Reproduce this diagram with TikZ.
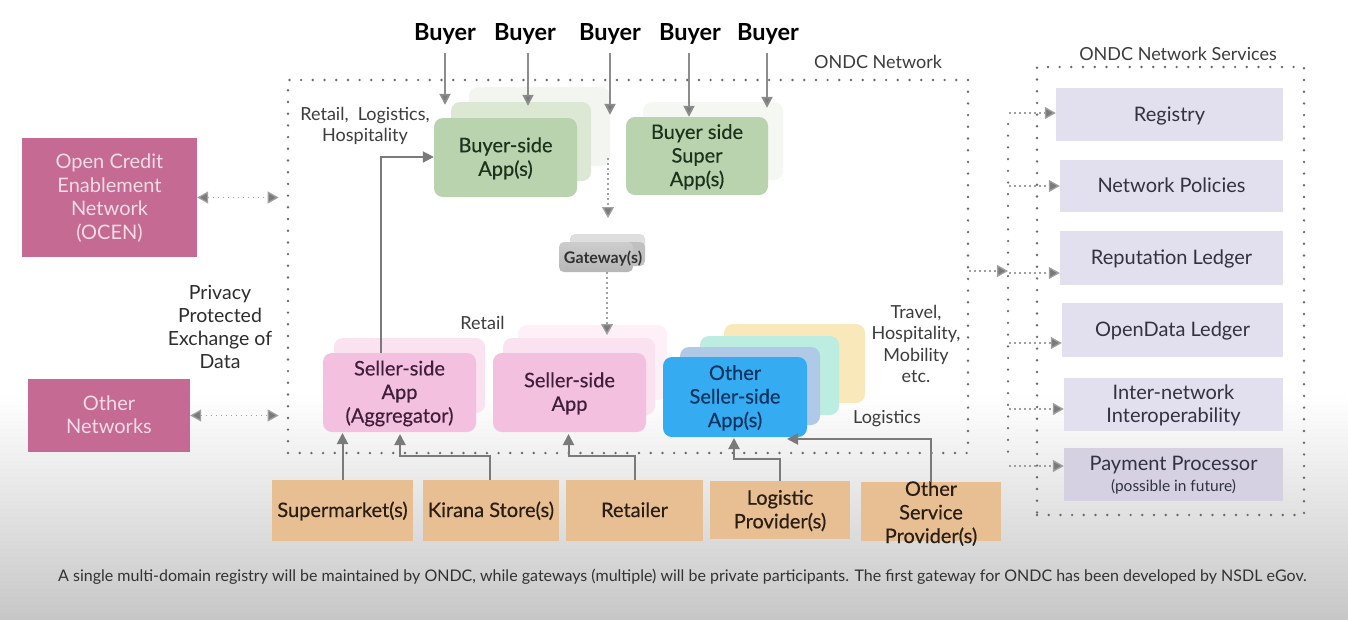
\documentclass[tikz,border=0pt]{standalone}
\usepackage{fontspec}
\setmainfont{Lato}[FakeBold=0.35]
\newfontfamily\plainlato{Lato}
\usetikzlibrary{arrows.meta,calc,positioning}
\definecolor{tipgrey}{HTML}{7A7A7A}
\definecolor{linegrey}{HTML}{8C8C8C}
\definecolor{dotgrey}{HTML}{6A6A6A}
\definecolor{thindot}{HTML}{A0A0A0}
\definecolor{labelc}{HTML}{3C3C3C}
\newcommand{\pxfont}[1]{\pgfmathsetmacro{\lsk}{#1*1.18}\fontsize{#1}{\lsk}\selectfont}
\tikzset{
  px/.style={font={\pxfont{#1}}},
  lightpx/.style={font={\plainlato\pxfont{#1}}},
  netframe/.style={draw=dotgrey,line width=2.7pt,line cap=round,dash pattern=on 0pt off 11.7pt,inner sep=0pt},
  solidarrow/.style={draw=linegrey,line width=1.9pt,-{Triangle[width=11pt,length=11pt,fill=tipgrey]}},
  elbowarrow/.style={draw=tipgrey,line width=2pt,-{Triangle[width=11pt,length=11pt,fill=tipgrey]}},
  dotarrow/.style={draw=thindot,line width=1.3pt,dash pattern=on 1.5pt off 3.5pt,-{Triangle[width=12pt,length=11pt,fill=tipgrey]}},
  dotboth/.style={draw=thindot,line width=1.3pt,dash pattern=on 1.5pt off 3.5pt,{Triangle[width=12pt,length=11pt,fill=tipgrey]}-{Triangle[width=12pt,length=11pt,fill=tipgrey]}},
  dotline/.style={draw=dotgrey,line width=2.5pt,line cap=round,dash pattern=on 0pt off 11.7pt},
  appbox/.style={rounded corners=9pt,align=center,inner sep=0pt},
  flatbox/.style={align=center,inner sep=0pt},
  free/.style={align=center,inner sep=0pt,text=labelc,lightpx=18},
  buyerlabel/.style={inner sep=0pt,text=black,font={\plainlato\fontsize{23.5}{26}\selectfont\bfseries}},
}
% box by its corners: style, name, x1, y1, x2, y2, text (set slightly below the centre)
\newcommand{\cornerbox}[7]{%
  \pgfmathsetmacro{\bw}{#5-#3}\pgfmathsetmacro{\bh}{#6-#4}%
  \pgfmathsetmacro{\bx}{(#3+#5)/2}\pgfmathsetmacro{\by}{(#4+#6)/2}%
  \node[#1,minimum width=\bw pt,minimum height=\bh pt] (#2) at (\bx,\by) {\raisebox{-1.8pt}[\height][\depth]{\begin{tabular}{@{}c@{}}#7\end{tabular}}};}
\begin{document}
\begin{tikzpicture}[x=1pt,y=-1pt]
\useasboundingbox (0,0) rectangle (1348,619);
\fill[white] (0,0) rectangle (1348,396);
\fill[top color=white,bottom color=black!22] (0,395) rectangle (1348,619);

% frames
\cornerbox{netframe}{net}{288}{80}{968}{453}{}
\cornerbox{netframe}{svc}{1037}{67}{1304}{515}{}
\node[free] (netlabel) at (878,62) {ONDC Network};
\node[free] (svclabel) at (1178,54) {ONDC Network Services};

% buyers
\node[buyerlabel] (b1) at (445,34) {Buyer};
\node[buyerlabel] (b2) at (525,34) {Buyer};
\node[buyerlabel] (b3) at (610,34) {Buyer};
\node[buyerlabel] (b4) at (690,34) {Buyer};
\node[buyerlabel] (b5) at (768,34) {Buyer};

% buyer apps
\cornerbox{appbox,fill={rgb,255:red,243;green,246;blue,240}}{bsbb}{469}{87}{610}{166}{}
\cornerbox{appbox,fill={rgb,255:red,220;green,232;blue,212}}{bsb}{451}{102}{591}{181}{}
\cornerbox{appbox,fill={rgb,255:red,185;green,211;blue,174},text={rgb,255:red,28;green,50;blue,28},px=20}{bsa}{434}{118}{577}{197}{Buyer-side\\App(s)}
\cornerbox{appbox,fill={rgb,255:red,244;green,247;blue,242}}{supb}{643}{102}{783}{180}{}
\cornerbox{appbox,fill={rgb,255:red,185;green,211;blue,174},text={rgb,255:red,28;green,50;blue,28},px=20}{sup}{626}{117}{768}{195}{Buyer side\\Super\\App(s)}
\node[free] (rl) at (365,126) {Retail,\ \ Logistics,\\Hospitality};

% gateway
\cornerbox{appbox,rounded corners=5pt,fill={rgb,255:red,222;green,222;blue,222}}{gwb}{570}{234}{645}{256}{}
\cornerbox{appbox,rounded corners=5pt,fill={rgb,255:red,192;green,192;blue,192}}{gwm}{566}{242}{645}{266}{}
\cornerbox{appbox,rounded corners=5pt,top color={rgb,255:red,205;green,205;blue,205},bottom color={rgb,255:red,182;green,182;blue,182}}{gw}{559}{242}{633}{272}{}
\node[inner sep=0pt,text={rgb,255:red,50;green,50;blue,50},lightpx=16] (gwt) at (603,259) {\textbf{Gateway(s)}};

% seller apps
\cornerbox{appbox,fill={rgb,255:red,250;green,226;blue,240}}{aggb}{334}{338}{485}{413}{}
\cornerbox{appbox,fill={rgb,255:red,243;green,192;blue,223},text={rgb,255:red,62;green,30;blue,58},px=20}{agg}{323}{353}{476}{432}{Seller-side\\App\\(Aggregator)}
\cornerbox{appbox,fill={rgb,255:red,253;green,241;blue,247}}{selbb}{518}{325}{667}{400}{}
\cornerbox{appbox,fill={rgb,255:red,250;green,226;blue,240}}{selb}{503}{338}{655}{415}{}
\cornerbox{appbox,fill={rgb,255:red,243;green,192;blue,223},text={rgb,255:red,62;green,30;blue,58},px=20}{sel}{493}{353}{646}{432}{Seller-side\\App}
\cornerbox{appbox,fill={rgb,255:red,248;green,232;blue,186}}{oty}{724}{324}{865}{403}{}
\cornerbox{appbox,fill={rgb,255:red,189;green,236;blue,224}}{otm}{700}{336}{839}{415}{}
\cornerbox{appbox,fill={rgb,255:red,175;green,201;blue,230}}{otb}{680}{347}{820}{425}{}
\cornerbox{appbox,fill={rgb,255:red,53;green,172;blue,241},text={rgb,255:red,10;green,50;blue,95},px=20}{oth}{663}{357}{807}{437}{Other\\Seller-side\\App(s)}
\node[free] (retail) at (482.5,323) {Retail};
\node[free] (travel) at (916,344) {Travel,\\Hospitality,\\Mobility\\etc.};
\node[free] (logi) at (887,419) {Logistics};

% providers
\tikzset{provider/.style={flatbox,fill={rgb,255:red,232;green,190;blue,147},text={rgb,255:red,40;green,30;blue,20},px=20}}
\cornerbox{provider}{smk}{272}{480}{413}{541}{Supermarket(s)}
\cornerbox{provider}{kir}{423}{480}{559}{541}{Kirana Store(s)}
\cornerbox{provider}{ret}{566}{480}{703}{541}{Retailer}
\cornerbox{provider}{lgp}{710}{481}{850}{539}{Logistic\\Provider(s)}
\cornerbox{provider}{osp}{861}{482}{1001}{541}{}
\node[flatbox,text={rgb,255:red,40;green,30;blue,20},px=20] (ospt) at (931,513.5) {Other\\Service\\Provider(s)};

% services
\tikzset{svcbox/.style={flatbox,fill={rgb,255:red,226;green,223;blue,238},text={rgb,255:red,50;green,50;blue,65},lightpx=20}}
\cornerbox{svcbox}{reg}{1056}{88}{1283}{141}{Registry}
\cornerbox{svcbox}{pol}{1060}{160}{1283}{212}{Network Policies}
\cornerbox{svcbox}{rep}{1060}{231}{1283}{285}{Reputation Ledger}
\cornerbox{svcbox}{opn}{1062}{303}{1283}{357}{OpenData Ledger}
\cornerbox{svcbox}{int}{1064}{378}{1283}{431}{Inter-network\\Interoperability}
\cornerbox{svcbox,fill={rgb,255:red,213;green,209;blue,226}}{pay}{1064}{448}{1283}{501}{Payment Processor\\[-3pt]{\fontsize{15.5}{17}\selectfont (possible in future)}}

% left networks
\tikzset{extbox/.style={flatbox,fill={rgb,255:red,196;green,106;blue,147},text={rgb,255:red,244;green,220;blue,230},lightpx=20}}
\cornerbox{extbox}{ocen}{22}{138}{197}{257}{Open Credit\\Enablement\\Network\\(OCEN)}
\cornerbox{extbox}{othn}{28}{379}{190}{452}{Other\\Networks}
\node[free,lightpx=19.5,text={rgb,255:red,45;green,45;blue,45}] (priv) at (220,327) {Privacy\\Protected\\Exchange of\\Data};

% connectors
\draw[dotboth,shorten >=8pt] (ocen.east) -- (ocen.east -| net.west);
\draw[dotboth,shorten >=8pt] (othn.east) -- (othn.east -| net.west);

\draw[solidarrow,shorten >=13pt] (b1.south) ++(0,8) -- (b1.south |- bsa.north);
\draw[solidarrow,shorten >=12pt] (b2.south) ++(3,8) -- ($(b2.south |- bsa.north)+(3,0)$);
\draw[solidarrow,shorten >=3pt] (b3.south) ++(0,8) -- (b3.south |- bsa.north);
\draw[solidarrow,shorten >=0pt] (b4.south) ++(-1,8) -- ($(b4.south |- sup.north)+(-1,0)$);
\draw[solidarrow,shorten >=9pt] (b5.south) ++(-1,8) -- ($(b5.south |- sup.north)+(-1,0)$);
\coordinate (gwin) at (608,218);
\coordinate (gwtop) at (608,158);
\coordinate (gwout) at (607,272);
\coordinate (selin) at (607,335);
\coordinate (aggout) at (381,353);
\coordinate (aggelbow) at (381,157);
\draw[dotarrow] (gwtop) -- (gwin);
\draw[dotarrow] (gwout) -- (selin);

\draw[elbowarrow] (aggout) -- (aggelbow) -- (aggelbow -| bsa.west);
\coordinate (smkout) at (342.5,480); \coordinate (smkin) at (342.5,433);
\draw[elbowarrow] (smkout) -- (smkin);
\coordinate (kirout) at (490,480); \coordinate (kirbend) at (490,456); \coordinate (kirin) at (400,434);
\draw[elbowarrow] (kirout) -- (kirbend) -- (kirbend -| kirin) -- (kirin);
\coordinate (retout) at (635,480); \coordinate (retbend) at (635,456); \coordinate (retin) at (568.5,434);
\draw[elbowarrow] (retout) -- (retbend) -- (retbend -| retin) -- (retin);
\coordinate (lgpbend) at (780,459); \coordinate (lgpin) at (734,438);
\draw[elbowarrow] (lgp.north) -- (lgpbend) -- (lgpbend -| lgpin) -- (lgpin);
\coordinate (ospbend) at (931,439); \coordinate (ospin) at (787,439);
\draw[elbowarrow] (osp.north) -- (ospbend) -- (ospin);

% network to services
\coordinate (bustop) at (1008,124);
\coordinate (busbot) at (1008,453);
\coordinate (busjoin) at (1008,271);
\draw[dotline] (bustop) -- (busbot);
\draw[dotarrow] (busjoin -| net.east) -- (busjoin);
\coordinate (jreg) at (1009,113);
\coordinate (jpol) at (1009,186);
\coordinate (jrep) at (1009,273);
\coordinate (jopn) at (1009,343);
\coordinate (jint) at (1009,409);
\coordinate (jpay) at (1009,466);
\draw[dotarrow] (jreg) -- (jreg -| reg.west);
\draw[dotarrow] (jpol) -- (jpol -| pol.west);
\draw[dotarrow] (jrep) -- (jrep -| rep.west);
\draw[dotarrow] (jopn) -- (jopn -| opn.west);
\draw[dotarrow] (jint) -- (jint -| int.west);
\draw[dotarrow] (jpay) -- (jpay -| pay.west);

% footnote
\node[inner sep=0pt,anchor=west,text={rgb,255:red,50;green,50;blue,50},lightpx=16] (foot) at (58,577) {A single multi-domain registry will be maintained by ONDC, while gateways (multiple) will be private participants. The first gateway for ONDC has been developed by NSDL eGov.};
\end{tikzpicture}
\end{document}
